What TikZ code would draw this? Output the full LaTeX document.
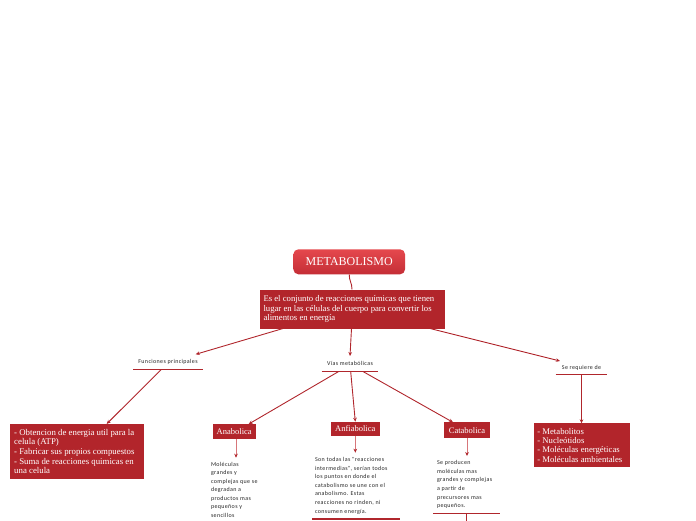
\documentclass[tikz,border=0pt]{standalone}
\usepackage{fontspec}
\setmainfont{Liberation Serif}
\newfontfamily\smallsans[LetterSpace=6]{Carlito}
\usetikzlibrary{calc,arrows.meta}
\definecolor{boxred}{HTML}{B2252B}
\definecolor{linered}{HTML}{B0262C}
\definecolor{pinkline}{HTML}{D7767A}
\definecolor{txtgray}{HTML}{262626}
\definecolor{titletop}{HTML}{E5484D}
\definecolor{titlebot}{HTML}{C42E36}
\tikzset{
  redbox/.style={fill=boxred, text=white, inner ysep=0pt, outer sep=0pt, align=flush left,
    font=\fontsize{8.6}{9.3}\selectfont},
  titlebox/.style={rounded corners=5pt, top color=titletop, bottom color=titlebot, draw=none,
    text=white, font=\fontsize{12}{14}\selectfont, minimum width=111.7pt, minimum height=25pt,
    inner sep=0pt, outer sep=0pt},
  lbl/.style={text=txtgray, font=\smallsans\fontsize{6}{8}\selectfont, inner sep=0pt, outer sep=0pt},
  txt/.style={text=txtgray, font=\smallsans\fontsize{6}{8.55}\selectfont, align=flush left,
    inner ysep=0pt, outer sep=0pt},
  uline/.style={draw=linered, line width=1.4pt},
  conn/.style={draw=linered, line width=0.9pt, -{Stealth[length=4pt,width=3.6pt]}},
  pconn/.style={draw=pinkline, line width=1pt, -{Stealth[length=4pt,width=3.6pt,color=linered]}},
}
\begin{document}
\begin{tikzpicture}[x=1pt,y=-1pt]
\useasboundingbox (0,0) rectangle (696,520);
\clip (0,0) rectangle (696,520);

\node[titlebox] (title) at (349.2,261.8) {METABOLISMO};
\node[redbox, text width=177pt, inner xsep=4pt, minimum height=39pt,
      font=\fontsize{8.7}{9.35}\selectfont] (desc) at (352,309)
  {Es el conjunto de reacciones químicas que tienen\\ lugar en las células del cuerpo para convertir los\\ alimentos en energía};

\node[lbl, minimum width=69.4pt, minimum height=15.4pt] (fp) at (168,362) {Funciones principales};
\node[lbl, minimum width=56.6pt, minimum height=15.7pt] (vm) at (350,363.85) {Vías metabólicas};
\node[lbl, minimum width=51.6pt, minimum height=13.3pt] (sr) at (581.5,367.65) {Se requiere de};

\node[redbox, text width=126pt, inner xsep=4pt, minimum height=55pt, font=\fontsize{8.8}{9.6}\selectfont] (obt) at (77.2,451.4)
  {- Obtencion de energia util para la\\ celula (ATP)\\ - Fabricar sus propios compuestos\\ - Suma de reacciones quimicas en\\ una celula};
\node[redbox, text width=89pt, inner xsep=3.5pt, minimum height=44pt, font=\fontsize{8.7}{9.4}\selectfont] (met) at (581.8,445.3)
  {- Metabolitos\\ - Nucleótidos\\ - Moléculas energéticas\\ - Moléculas ambientales};

\node[redbox, align=center, minimum width=43pt, minimum height=15.3pt, inner xsep=0pt, font=\fontsize{8.5}{9.4}\selectfont] (ana) at (234.2,431.7) {Anabolica};
\node[redbox, align=center, minimum width=49.3pt, minimum height=14pt, inner xsep=0pt, font=\fontsize{8.5}{9.4}\selectfont] (anfi) at (355.3,428.7) {Anfiabolica};
\node[redbox, align=center, minimum width=46pt, minimum height=16pt, inner xsep=0pt, font=\fontsize{8.5}{9.4}\selectfont] (cat) at (467,430.3) {Catabolica};

\node[txt, text width=52pt, inner xsep=3pt, minimum height=64.2pt] (anatxt) at (237,489.8)
  {Moléculas\\ grandes y\\ complejas que se\\ degradan a\\ productos mas\\ pequeños y\\ sencillos};
\node[txt, text width=82pt, inner xsep=3pt, minimum height=66.3pt] (anfitxt) at (356,485.85)
  {Son todas las "reacciones\\ intermedias", serían todos\\ los puntos en donde el\\ catabolismo se une con el\\ anabolismo. Estas\\ reacciones no rinden, ni\\ consumen energía.};
\node[txt, text width=59pt, inner xsep=4pt, minimum height=57.3pt] (cattxt) at (466.5,484.65)
  {Se producen\\ moléculas mas\\ grandes y complejas\\ a partir de\\ precursores mas\\ pequeños.};
\coordinate (catend) at (466.5,530);

% underlines
\draw[uline] (fp.south west) -- (fp.south east);
\draw[uline] (vm.south west) -- (vm.south east);
\draw[uline] (sr.south west) -- (sr.south east);
\draw[uline] (anfitxt.south west) -- (anfitxt.south east);
\draw[uline] (cattxt.south west) -- (cattxt.south east);

% connectors
\draw[draw=linered, line width=0.9pt] (title.south) .. controls +(0,7) and +(0,-7) .. (desc.north);
\draw[conn] ($(desc.south)+(-69,0)$) -- ($(fp.north)+(27.7,0)$);
\draw[conn] ($(desc.south)+(-0.5,0)$) -- (vm.north);
\draw[conn] ($(desc.south)+(78,0)$) -- ($(sr.north)+(-21.5,0)$);
\draw[conn] ($(fp.south)+(-7,0)$) -- ($(obt.north)+(29.5,0)$);
\draw[conn] ($(vm.south)+(-11.7,0)$) -- ($(ana.north)+(14.5,0)$);
\draw[conn] ($(vm.south)+(0.7,0)$) -- (anfi.north);
\draw[conn] ($(vm.south)+(13.3,0)$) -- ($(cat.north)+(-14,0)$);
\draw[conn] (sr.south) -- (sr.south |- met.north);
\draw[pconn] ($(ana.south)+(1.8,0)$) -- ($(ana.south |- anatxt.north)+(1.8,0)$);
\draw[pconn] (anfi.south) -- (anfi.south |- anfitxt.north);
\draw[pconn] (cat.south) -- (cat.south |- cattxt.north);
\draw[draw=linered, line width=1pt] (cattxt.south) -- (catend);
\end{tikzpicture}
\end{document}
